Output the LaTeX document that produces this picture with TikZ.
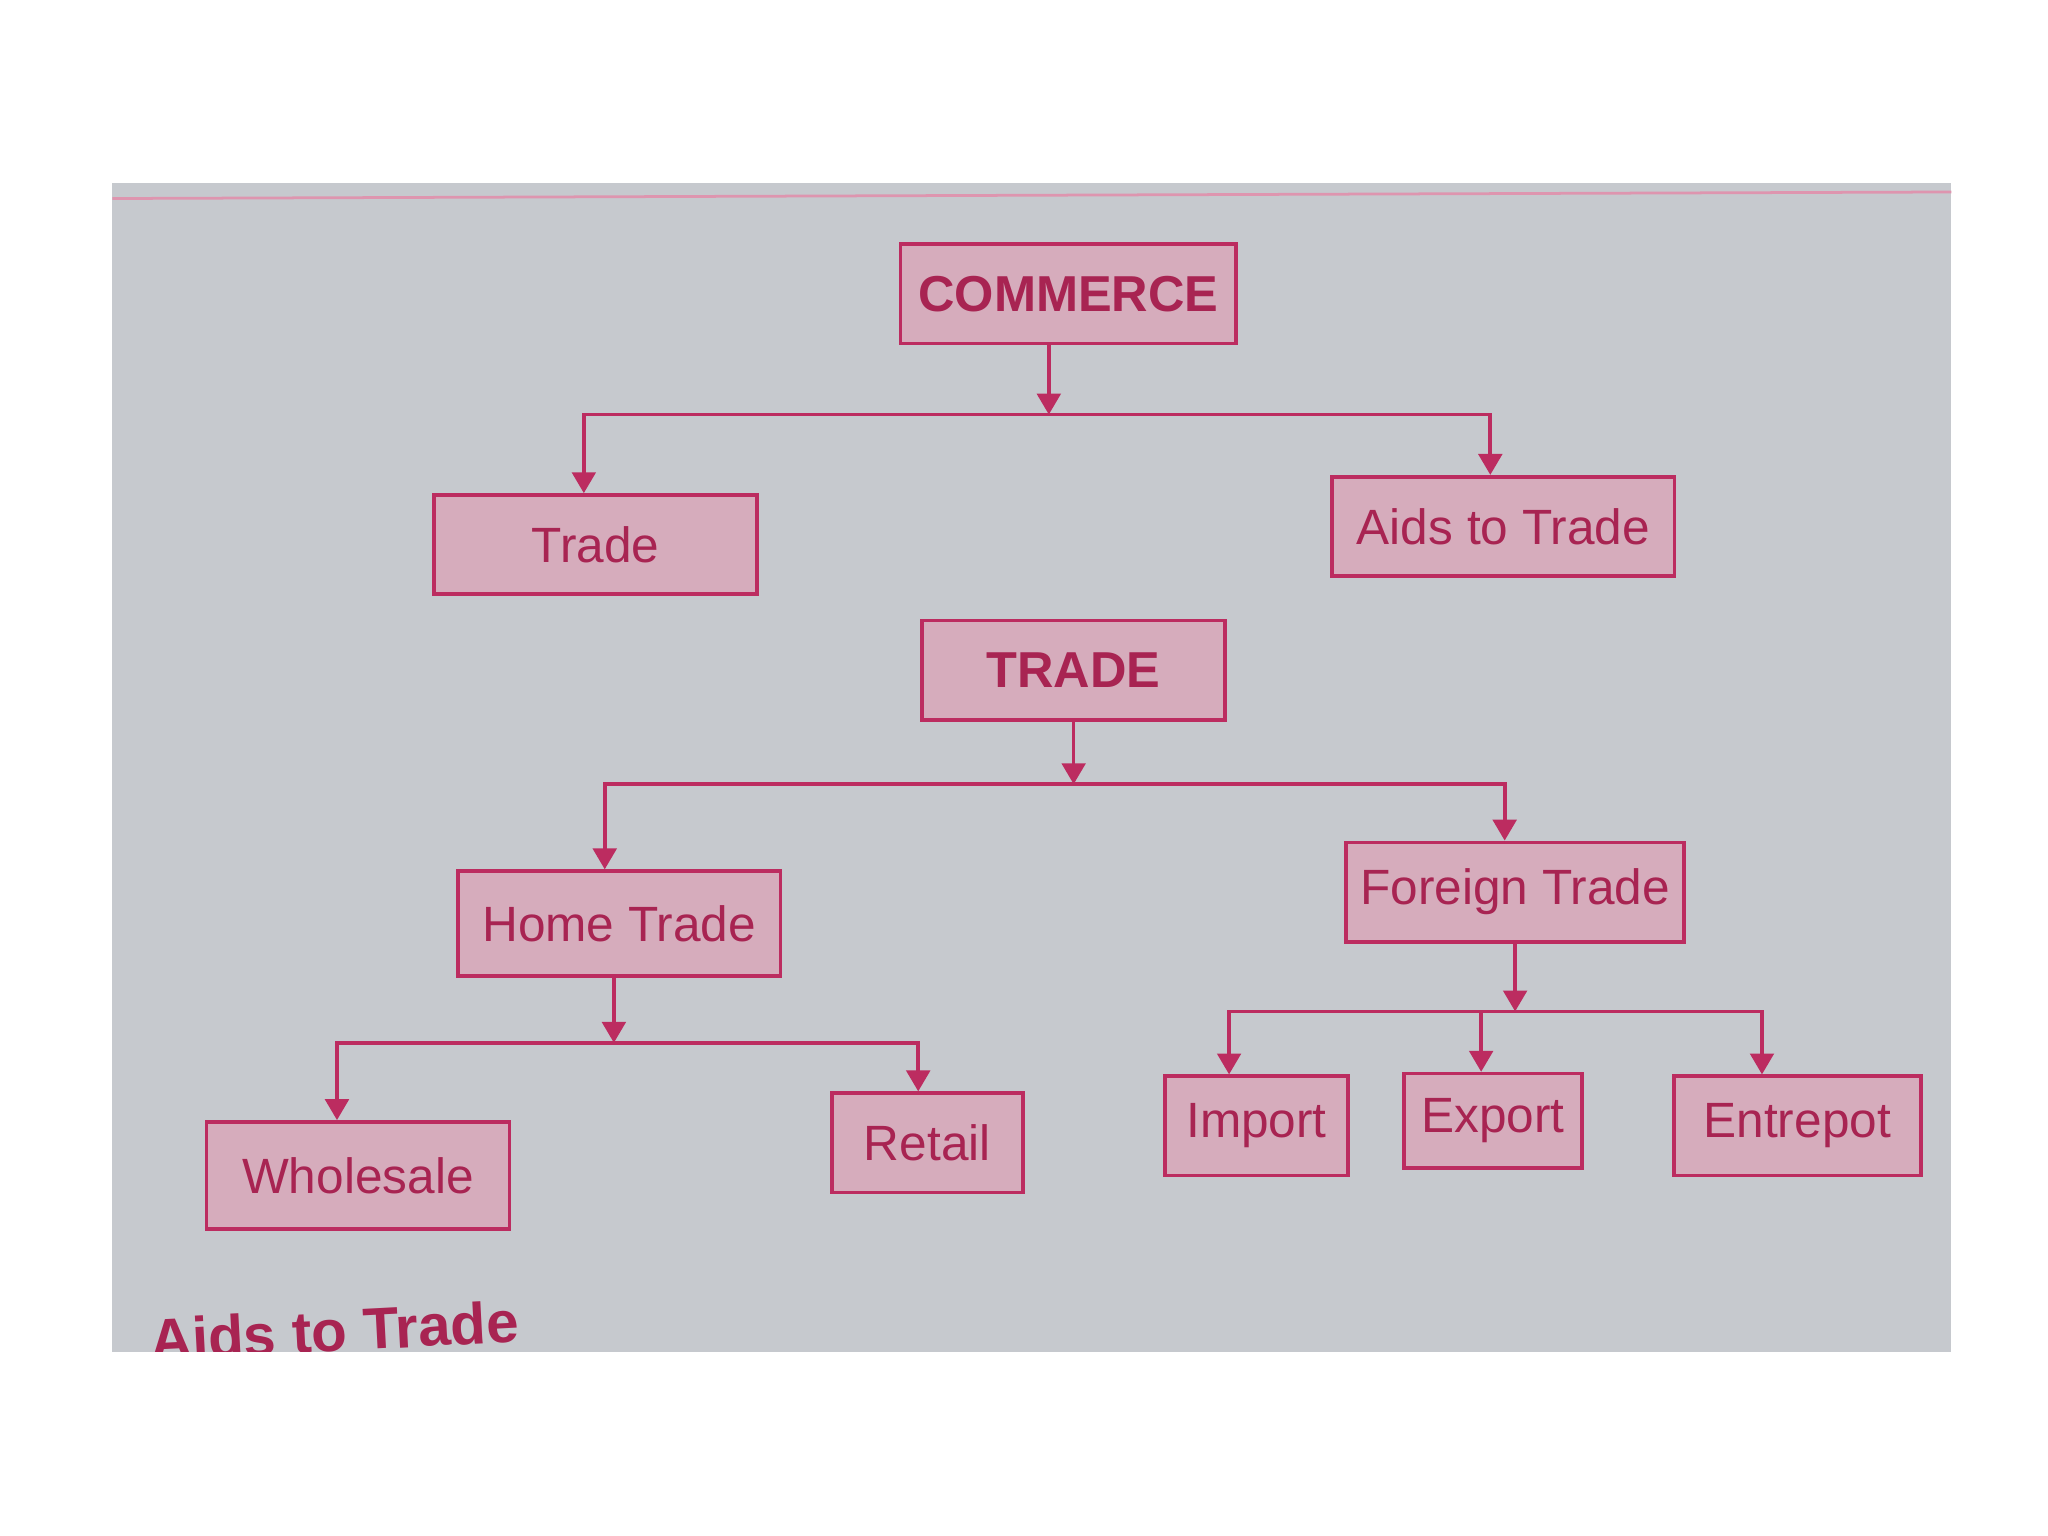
\documentclass[tikz,border=0pt]{standalone}
\usepackage{fontspec}
\setmainfont{Liberation Sans}
\usetikzlibrary{arrows.meta,positioning,calc}
\definecolor{pinkline}{RGB}{188,44,96}
\definecolor{pinktext}{RGB}{168,36,82}
\definecolor{pinkfill}{RGB}{214,172,188}
\definecolor{photogray}{RGB}{198,201,206}

\begin{document}
\begin{tikzpicture}[
  box/.style={draw=pinkline, line width=0.8pt, fill=pinkfill, text=pinktext, minimum height=0.76cm, inner sep=2pt, font=\fontsize{10.8}{13}\selectfont},
  head/.style={box, font=\fontsize{11}{13}\selectfont\bfseries},
  arr/.style={-{Triangle[length=1.6mm,width=1.8mm]}, draw=pinkline, line width=0.8pt}
]
\useasboundingbox (0,0) rectangle (15.68,-11.76);
\fill[white] (0,0) rectangle (15.68,-11.76);
\fill[photogray] (0.86,-1.40) rectangle (14.94,-10.35);
\draw[pinkline!50, line width=0.6pt] (0.86,-1.52) -- (14.94,-1.47);

% first chart
\node[head, minimum width=2.57cm] (commerce) at (8.18,-2.25) {COMMERCE};
\node[box, minimum width=2.47cm] (trade) at (4.56,-4.17) {Trade};
\node[box, minimum width=2.62cm] (aids) at (11.51,-4.03) {Aids to Trade};

\draw[arr] ([xshift=-1.5mm]commerce.south) -- ++(0,-0.53) coordinate (cbus);
\draw[arr] (cbus) -| ([xshift=-0.9mm]trade.north);
\draw[arr] (cbus) -| ([xshift=-1mm]aids.north);

% second chart
\node[head, minimum width=2.32cm] (tradehead) at (8.22,-5.13) {TRADE};
\node[box, minimum width=2.47cm, minimum height=0.8cm] (home) at (4.74,-7.07) {Home Trade};
\node[box, minimum width=2.59cm] (foreign) at (11.60,-6.83) {Foreign Trade};
\node[box, minimum width=2.32cm, minimum height=0.82cm] (wholesale) at (2.74,-9.00) {Wholesale};
\node[box, minimum width=1.46cm] (retail) at (7.10,-8.75) {Retail};
\node[box, minimum width=1.40cm] (import) at (9.62,-8.62) {Import};
\node[box, minimum width=1.36cm, minimum height=0.72cm] (export) at (11.43,-8.58) {Export};
\node[box, minimum width=1.89cm] (entrepot) at (13.76,-8.62) {Entrepot};

\draw[arr] (tradehead.south) -- ++(0,-0.48) coordinate (tbus);
\draw[arr] (tbus) -| ([xshift=-1.1mm]home.north);
\draw[arr] (tbus) -| ([xshift=-0.8mm]foreign.north);

\draw[arr] ([xshift=-0.4mm]home.south) -- ++(0,-0.5) coordinate (hbus);
\draw[arr] (hbus) -| ([xshift=-1.6mm]wholesale.north);
\draw[arr] (hbus) -| ([xshift=-0.7mm]retail.north);

\draw[arr] (foreign.south) -- ++(0,-0.52) coordinate (fbus);
\draw[arr] (fbus) -| ([xshift=-2.1mm]import.north);
\draw[arr] (fbus) -| ([xshift=-0.9mm]export.north);
\draw[arr] (fbus) -| ([xshift=-2.7mm]entrepot.north);

% heading cut off by the photo edge
\begin{scope}
  \clip (0.86,-1.40) rectangle (14.94,-10.35);
  \node[anchor=base west, rotate=3, text=pinktext, inner sep=0pt, font=\fontsize{12.7}{14}\selectfont\bfseries] (aidshead) at (1.15,-10.42) {Aids to Trade};
\end{scope}
\end{tikzpicture}
\end{document}
